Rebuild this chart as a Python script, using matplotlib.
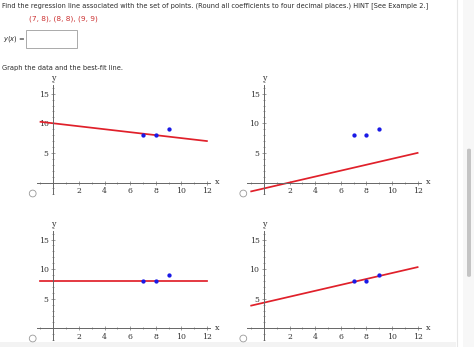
import matplotlib
matplotlib.use("Agg")
import matplotlib.pyplot as plt
from matplotlib.patches import Rectangle, Circle, FancyBboxPatch
from matplotlib.ticker import MultipleLocator

W, H = 474, 347

# data
pts_x = [7, 8, 9]
pts_y = [8, 8, 9]
line_slopes = [-0.25, 0.5, 0.0, 0.5]
line_intercepts = [10.0, -1.0, 8.0, 4.3333]
x_ticks = [2, 4, 6, 8, 10, 12]
y_ticks = [5, 10, 15]
question = ("Find the regression line associated with the set of points. "
            "(Round all coefficients to four decimal places.) HINT [See Example 2.]")
points_text = "(7, 8), (8, 8), (9, 9)"

# pixel origins of the four small graphs (x=0, y=0)
origins = [(53.3, 182.5), (264.0, 182.5), (53.3, 328.3), (264.0, 328.3)]
sx, sy = 12.8, 5.92
radios = [(32.7, 193.5), (243.3, 193.5), (32.7, 338.5), (243.3, 338.5)]

fig = plt.figure(figsize=(W / 100, H / 100), dpi=100)
fig.patch.set_facecolor("white")

bg = fig.add_axes([0, 0, 1, 1])
bg.set_xlim(0, W)
bg.set_ylim(H, 0)
bg.axis("off")

txt = "#2a2a2a"
bg.text(2, 5.5, question, fontsize=4.77, color=txt, va="center", ha="left", family="DejaVu Sans")
bg.text(29, 19, points_text, fontsize=5.3, color="#cc3333", va="center", ha="left", family="DejaVu Sans")
bg.text(3, 39, "$y(x)$ =", fontsize=4.9, color=txt, va="center", ha="left")
bg.add_patch(Rectangle((26, 29.5), 51, 18, fill=False, ec="#aaaaaa", lw=0.7))
bg.text(2, 68, "Graph the data and the best-fit line.", fontsize=4.77, color=txt,
        va="center", ha="left", family="DejaVu Sans")

# bottom strip and scrollbar
bg.add_patch(Rectangle((0, 341.5), 456, 6, color="#f3f3f3", lw=0))
bg.plot([456.7, 456.7], [0, H], color="#e6e6e6", lw=0.8)
bg.add_patch(Rectangle((463, 0), 11, H, color="#f7f7f7", lw=0))
bg.add_patch(FancyBboxPatch((467.3, 149), 3.4, 127.5, boxstyle="round,pad=0.3,rounding_size=1.5",
                            fc="#c4c4c4", ec="none"))

for (rx, ry) in radios:
    bg.add_patch(Circle((rx, ry), 3.4, fill=True, fc="white", ec="#999999", lw=0.6))

xlo, xhi, ylo, yhi = -1.6, 12.8, -2.2, 17.0
for i, (ox, oy) in enumerate(origins):
    left = ox + xlo * sx
    top = oy - yhi * sy
    w = (xhi - xlo) * sx
    h = (yhi - ylo) * sy
    ax = fig.add_axes([left / W, 1 - (top + h) / H, w / W, h / H])
    ax.set_xlim(xlo, xhi)
    ax.set_ylim(ylo, yhi)
    ax.patch.set_alpha(0)
    for s in ["top", "right"]:
        ax.spines[s].set_visible(False)
    ax.spines["left"].set_position(("data", 0))
    ax.spines["bottom"].set_position(("data", 0))
    ax.spines["left"].set_bounds(-2.0, 16.5)
    ax.spines["bottom"].set_bounds(-1.3, 12.25)
    for s in ["left", "bottom"]:
        ax.spines[s].set_color("#666666")
        ax.spines[s].set_linewidth(0.7)
    ax.set_xticks(x_ticks)
    ax.set_yticks(y_ticks)
    ax.xaxis.set_minor_locator(MultipleLocator(1))
    ax.yaxis.set_minor_locator(MultipleLocator(1))
    ax.tick_params(which="both", direction="inout", color="#777777", width=0.5)
    ax.tick_params(which="major", length=2.6, labelsize=5.6, pad=2.0, labelcolor="#333333")
    ax.tick_params(which="minor", length=1.8)
    for lab in ax.get_xticklabels() + ax.get_yticklabels():
        lab.set_family("DejaVu Serif")
    ax.text(12.65, 0, "x", fontsize=5.8, family="DejaVu Serif", color="#333333",
            ha="left", va="center", clip_on=False)
    ax.text(0, 17.6, "y", fontsize=5.8, family="DejaVu Serif", color="#333333",
            ha="center", va="center", clip_on=False)

    xs = [-1.0, 12.0]
    ys = [line_slopes[i] * x + line_intercepts[i] for x in xs]
    ax.plot(xs, ys, color="#e0202a", lw=1.25, clip_on=False, zorder=2)
    ax.plot(pts_x, pts_y, "o", color="#1a1ae6", ms=3.1, mec="none", zorder=3)

fig.savefig("out.png", dpi=100)
